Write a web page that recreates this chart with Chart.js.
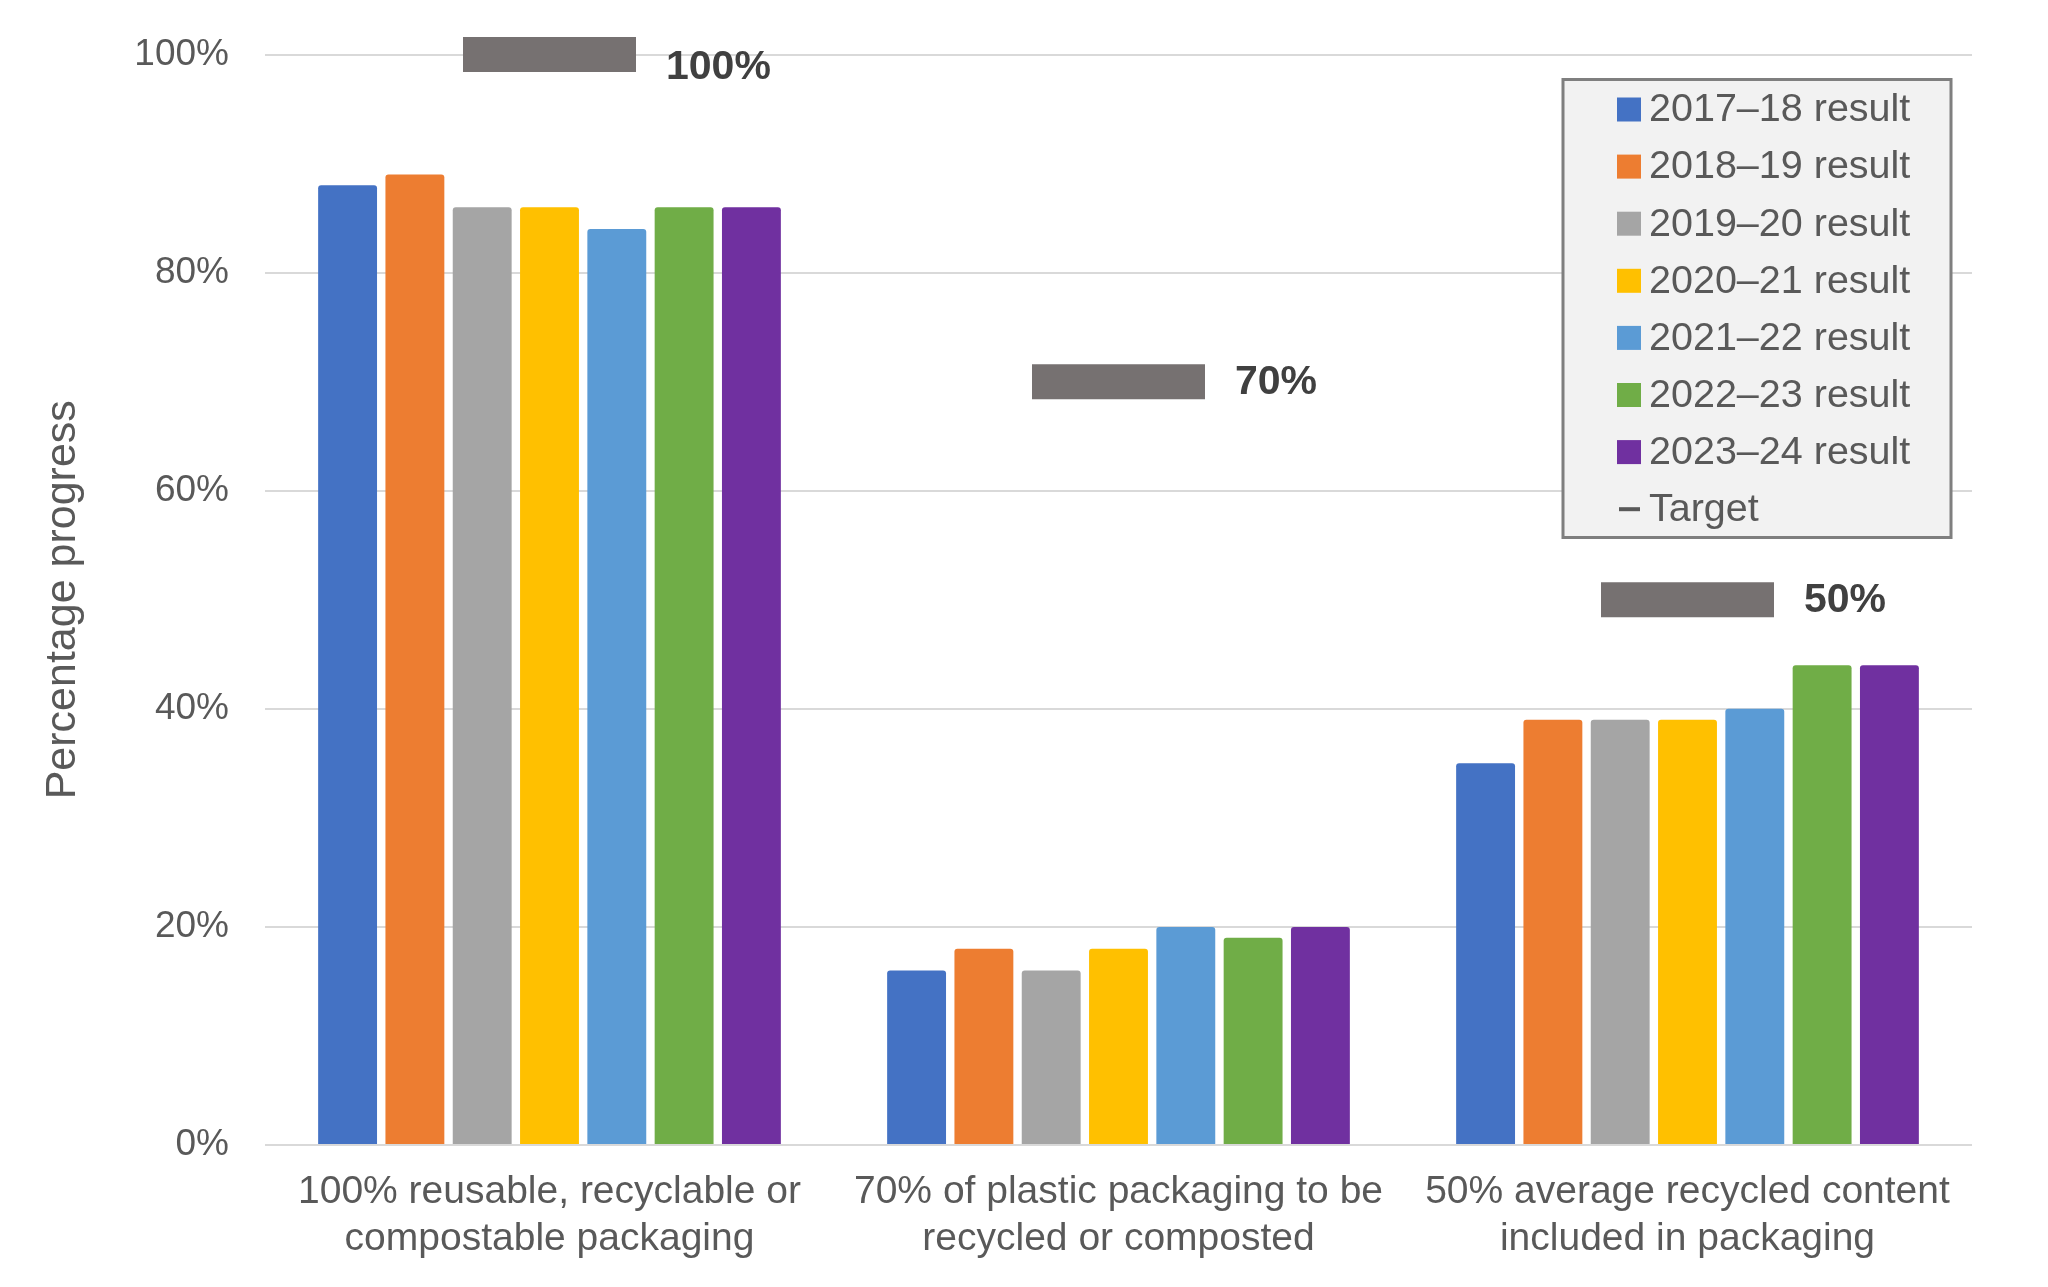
<!DOCTYPE html>
<html>
<head>
<meta charset="utf-8">
<script src="https://cdn.jsdelivr.net/npm/chart.js@4.4.1/dist/chart.umd.min.js"></script>
<style>
  html, body { margin: 0; padding: 0; background: #fff; }
  #wrap { width: 2048px; height: 1287px; }
</style>
</head>
<body>
<div id="wrap"><canvas id="grafico" width="2048" height="1287"></canvas></div>
<script>
// dados
const categorias = [
    ['100% reusable, recyclable or', 'compostable packaging'],
    ['70% of plastic packaging to be', 'recycled or composted'],
    ['50% average recycled content', 'included in packaging']
];
const nomesSeries = [
    '2017–18 result', '2018–19 result', '2019–20 result', '2020–21 result',
    '2021–22 result', '2022–23 result', '2023–24 result'
];
const res2017 = [88, 16, 35];
const res2018 = [89, 18, 39];
const res2019 = [86, 16, 39];
const res2020 = [86, 18, 39];
const res2021 = [84, 20, 40];
const res2022 = [86, 19, 44];
const res2023 = [86, 20, 44];
const metas = [100, 70, 50];
const ticksY = [0, 20, 40, 60, 80, 100];

const coresSeries = ['#4472C4', '#ED7D31', '#A5A5A5', '#FFC000', '#5B9BD5', '#70AD47', '#7030A0'];
const corMeta = '#767171';
const corTexto = '#595959';
const fonte = "'Liberation Sans', Arial, sans-serif";

const MARCA_LARGURA = 173;
const MARCA_ALTURA = 35;

const valoresSeries = [res2017, res2018, res2019, res2020, res2021, res2022, res2023];

const datasets = valoresSeries.map((valores, i) => ({
    type: 'bar',
    label: nomesSeries[i],
    data: valores,
    backgroundColor: coresSeries[i],
    borderRadius: 3,
    borderSkipped: 'bottom',
    categoryPercentage: 0.828,
    barPercentage: 0.875
}));

datasets.push({
    type: 'line',
    label: 'Target',
    data: metas,
    showLine: false,
    clip: false,
    pointStyle: 'line',
    pointRadius: MARCA_LARGURA / 2,
    pointHoverRadius: MARCA_LARGURA / 2,
    pointBorderWidth: MARCA_ALTURA,
    pointBorderColor: corMeta,
    pointBackgroundColor: corMeta,
    borderColor: corMeta
});

// legenda em caixa cinza dentro da area do grafico
const legendaCaixa = {
    id: 'legendaCaixa',
    afterDraw(chart) {
        const ctx = chart.ctx;
        const area = chart.chartArea;
        const w = 388, h = 458;
        const x0 = area.right - 21 - w;
        const y0 = area.top + 25;
        ctx.save();
        ctx.fillStyle = '#F2F2F2';
        ctx.fillRect(x0, y0, w, h);
        ctx.strokeStyle = '#7F7F7F';
        ctx.lineWidth = 3;
        ctx.strokeRect(x0, y0, w, h);

        ctx.font = '39.5px ' + fonte;
        ctx.textBaseline = 'middle';
        ctx.textAlign = 'left';
        chart.data.datasets.forEach((ds, i) => {
            const cy = y0 + 30 + i * 57.1;
            if (ds.type === 'line') {
                ctx.fillStyle = corTexto;
                ctx.fillRect(x0 + 56, cy - 2, 21, 4);
            } else {
                ctx.fillStyle = ds.backgroundColor;
                ctx.fillRect(x0 + 54, cy - 12, 24, 24);
            }
            ctx.fillStyle = corTexto;
            ctx.fillText(ds.label, x0 + 86, cy + 1);
        });
        ctx.restore();
    }
};

// rotulos das metas ao lado das marcas
const rotulosMeta = {
    id: 'rotulosMeta',
    afterDatasetsDraw(chart) {
        const idx = chart.data.datasets.findIndex(d => d.type === 'line');
        const meta = chart.getDatasetMeta(idx);
        const ctx = chart.ctx;
        ctx.save();
        ctx.font = 'bold 41px ' + fonte;
        ctx.fillStyle = '#404040';
        ctx.textBaseline = 'middle';
        ctx.textAlign = 'left';
        meta.data.forEach((pt, i) => {
            // rotulo no topo fica um pouco abaixo para nao sair do grafico
            const y = Math.max(pt.y + 1, chart.chartArea.top + 13);
            ctx.fillText(metas[i] + '%', pt.x + MARCA_LARGURA / 2 + 30, y);
        });
        ctx.restore();
    }
};

new Chart(document.getElementById('grafico'), {
    type: 'bar',
    data: { labels: categorias, datasets: datasets },
    options: {
        responsive: false,
        animation: false,
        devicePixelRatio: 1,
        layout: { autoPadding: false, padding: { top: 44, right: 76, left: 0, bottom: 0 } },
        plugins: {
            legend: { display: false },
            tooltip: { enabled: false }
        },
        scales: {
            x: {
                grid: { display: false, drawTicks: false },
                border: { display: false },
                ticks: {
                    color: corTexto,
                    font: { family: fonte, size: 39, lineHeight: 1.2 },
                    padding: 24,
                    maxRotation: 0,
                    autoSkip: false
                },
                afterFit: s => { s.height = 142; }
            },
            y: {
                min: 0,
                max: 100,
                afterBuildTicks: s => { s.ticks = ticksY.map(v => ({ value: v })); },
                grid: { color: '#D9D9D9', lineWidth: 2, drawTicks: false },
                border: { display: false },
                ticks: {
                    color: corTexto,
                    font: { family: fonte, size: 37, lineHeight: 1 },
                    padding: 36,
                    callback: v => v + '%'
                },
                title: {
                    display: true,
                    text: 'Percentage progress',
                    color: corTexto,
                    font: { family: fonte, size: 43, lineHeight: 1.2 },
                    padding: { top: 37, bottom: 0 }
                },
                afterFit: s => { s.width = 265; }
            }
        }
    },
    plugins: [legendaCaixa, rotulosMeta]
});
</script>
</body>
</html>
